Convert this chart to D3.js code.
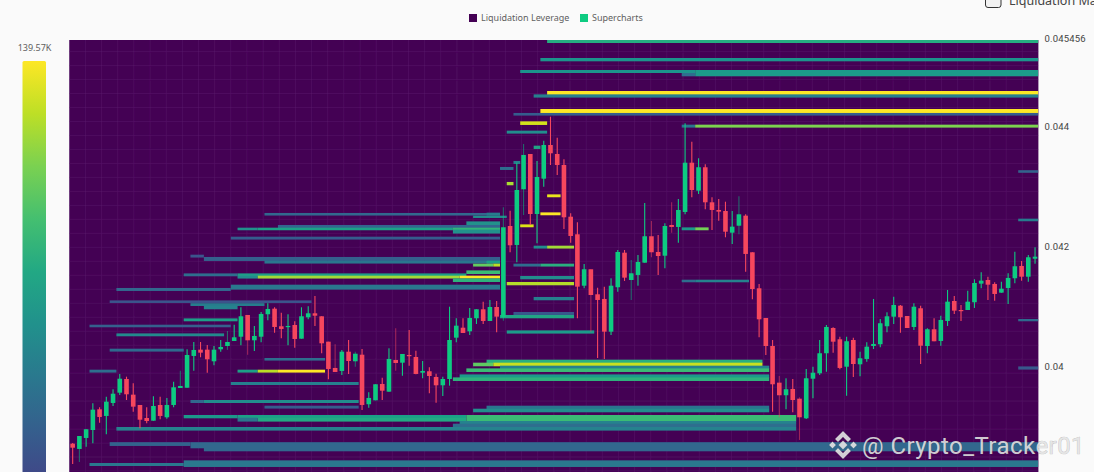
<!DOCTYPE html>
<html>
<head>
<meta charset="utf-8">
<script src="https://cdn.jsdelivr.net/npm/d3@7"></script>
<style>
    html, body { margin: 0; padding: 0; background: #fafafa; overflow: hidden; }
    svg { display: block; }
    .legend-text { font-family: 'Noto Sans', sans-serif; font-size: 9px; fill: #5f5f5f; }
    .axis text { font-family: Roboto, sans-serif; font-size: 9.5px; fill: #444; letter-spacing: 0.2px; }
    .mark { font-family: Roboto, sans-serif; font-size: 24px; fill: #e4e4e4; fill-opacity: 0.9; letter-spacing: 0.45px;
            paint-order: stroke; stroke: rgba(60, 60, 60, 0.35); stroke-width: 0.7px; }
</style>
</head>
<body>
<div id="chart"></div>
<script>
// Prices are kept in millionths (42000 = 0.042)
const candleOpen = [
    38705, 38617, 38800, 38933, 39278, 39167, 39383, 39555, 39783, 39522,
    39350, 39133, 39088, 39350, 39145, 39350, 39633, 39638, 40167, 40272,
    40272, 40078, 40278, 40333, 40417, 40488, 40850, 40428, 40488, 40862,
    40955, 40662, 40650, 40683, 40455, 40812, 40878, 40828, 40405, 39967,
    39917, 40238, 40078, 40188, 39362, 39428, 39700, 39572, 40100, 40055,
    40183, 40150, 39888, 39912, 39817, 39678, 39783, 40472, 40638, 40578,
    40795, 40945, 40750, 40983, 40812, 42333, 42017, 42945, 43533, 42533,
    43122, 43683, 43533, 43350, 42488, 42195, 41338, 41612, 41195, 41117,
    40572, 41312, 41888, 41433, 41517, 41722, 42162, 41900, 41838, 42350,
    42317, 42567, 43388, 42922, 43312, 42728, 42600, 42583, 42222, 42338,
    42505, 41895, 41295, 40800, 40333, 39722, 39512, 39617, 39455, 39128,
    39788, 39878, 40212, 40633, 40445, 39988, 40433, 40028, 40117, 40333,
    40362, 40662, 40822, 41005, 40833, 40650, 40962, 40333, 40612, 40417,
    40750, 41083, 40933, 40933, 41062, 41372, 41433, 41367, 41222, 41300,
    41462, 41667, 41488, 41788
];
const candleClose = [
    38638, 38833, 38945, 39272, 39150, 39405, 39538, 39788, 39528, 39322,
    39105, 39083, 39333, 39167, 39350, 39645, 39667, 40183, 40267, 40222,
    40112, 40272, 40317, 40400, 40478, 40828, 40428, 40500, 40867, 40950,
    40650, 40617, 40667, 40450, 40828, 40878, 40838, 40378, 39950, 39900,
    40238, 40083, 40205, 39350, 39467, 39695, 39588, 40117, 40050, 40200,
    40167, 39867, 39917, 39833, 39678, 39783, 40433, 40672, 40550, 40800,
    40945, 40750, 40983, 40822, 42312, 42012, 42933, 43517, 42533, 43150,
    43683, 43545, 43350, 42478, 42167, 41322, 41612, 41183, 41100, 40572,
    41338, 41900, 41472, 41545, 41733, 42162, 41895, 41833, 42333, 42317,
    42600, 43388, 42933, 43312, 42728, 42600, 42572, 42238, 42322, 42528,
    41867, 41283, 40778, 40333, 39695, 39512, 39612, 39433, 39145, 39795,
    39888, 40212, 40650, 40405, 39967, 40412, 40033, 40128, 40322, 40367,
    40712, 40828, 41017, 40812, 40633, 40988, 40338, 40612, 40412, 40767,
    41072, 40922, 40917, 41072, 41383, 41422, 41355, 41200, 41288, 41467,
    41662, 41488, 41812, 41822
];
const candleHigh = [
    38717, 38833, 38945, 39378, 39312, 39488, 39612, 39867, 39822, 39712,
    39350, 39312, 39495, 39488, 39467, 39738, 39922, 40278, 40400, 40400,
    40350, 40333, 40433, 40583, 40688, 40978, 40850, 40667, 40900, 41045,
    40978, 40888, 40862, 40745, 40978, 40995, 41167, 40828, 40405, 40362,
    40267, 40433, 40238, 40283, 39562, 39695, 39805, 40295, 40628, 40200,
    40600, 40255, 40083, 39978, 39872, 39822, 40988, 40795, 40795, 40967,
    40945, 41072, 41100, 41083, 42645, 42588, 43388, 43700, 43533, 43417,
    43755, 44155, 43805, 43445, 42545, 42395, 41700, 41612, 41305, 41322,
    41462, 41933, 41933, 41767, 41850, 42717, 42417, 42183, 42378, 42728,
    42783, 44045, 43738, 43462, 43362, 42812, 42783, 42738, 42583, 42828,
    42528, 41895, 41367, 40800, 40433, 39833, 39795, 39783, 39478, 39950,
    39988, 40433, 40683, 40645, 40488, 40488, 40472, 40238, 40395, 41117,
    40783, 40895, 41155, 41017, 40833, 41045, 41005, 40628, 40795, 40838,
    41267, 41167, 41017, 41255, 41445, 41562, 41488, 41395, 41405, 41545,
    41905, 41750, 41850, 41978
];
const candleLow = [
    38367, 38400, 38655, 38712, 39055, 38862, 39333, 39517, 39433, 39238,
    38962, 39045, 39088, 39112, 39122, 39312, 39633, 39638, 39922, 40145,
    39888, 40012, 40238, 40267, 40417, 40345, 40188, 40250, 40395, 40762,
    40555, 40462, 40345, 40305, 40455, 40778, 40667, 40212, 39778, 39900,
    39850, 39867, 39988, 39267, 39305, 39428, 39433, 39572, 39922, 39838,
    40005, 39862, 39795, 39545, 39388, 39500, 39672, 40395, 40550, 40517,
    40700, 40700, 40750, 40562, 40755, 41895, 41728, 42517, 42350, 42045,
    42988, 43350, 43183, 42283, 42055, 40795, 41295, 40572, 40133, 40117,
    40517, 41238, 41417, 41100, 41338, 41722, 41812, 41517, 41628, 42222,
    42055, 42528, 42812, 42867, 42612, 42267, 42422, 42145, 42033, 42195,
    41572, 41112, 40478, 40183, 39238, 39145, 39278, 39228, 38767, 39117,
    39462, 39850, 39905, 40222, 39945, 39505, 39817, 39828, 40072, 40283,
    40312, 40562, 40700, 40555, 40633, 40600, 40033, 40212, 40412, 40338,
    40667, 40867, 40750, 40933, 40967, 41295, 41100, 41088, 41222, 41033,
    41378, 41422, 41405, 41705
];
// candles whose wick reads faint in the picture
const faintWicks = [1, 16, 23, 26, 39, 42, 48, 64, 67, 77, 83, 86, 89, 99, 105, 108];

// Liquidation bands: [price top, price bottom, first candle, end candle, value in K]
const liqBands = [
    [45440, 45388, 71, 144, 87], [45128, 45083, 70, 144, 72], [44928, 44888, 67, 93, 72],
    [44928, 44833, 93, 144, 76], [44878, 44833, 91, 93, 50], [44578, 44522, 71, 144, 139.57],
    [44522, 44478, 69, 144, 60], [44278, 44212, 70, 144, 139.57], [44212, 44178, 66, 144, 40],
    [44072, 44022, 67, 71, 130], [43917, 43878, 65, 71, 68], [44017, 43978, 91, 93, 55],
    [44017, 43978, 93, 144, 112], [43667, 43622, 69, 70, 82], [43412, 43372, 66, 67, 60],
    [43312, 43272, 64, 66, 50], [43258, 43225, 141, 144, 44], [43062, 43017, 65, 66, 122],
    [42855, 42817, 71, 73, 135], [42555, 42517, 70, 73, 139.57], [42450, 42417, 141, 144, 58],
    [42355, 42317, 67, 69, 132], [42000, 41962, 69, 71, 68], [42000, 41962, 71, 75, 120],
    [42305, 42267, 91, 93, 75], [42305, 42267, 93, 95, 110], [41700, 41662, 66, 70, 50],
    [41700, 41662, 70, 75, 88], [41495, 41450, 67, 75, 68], [41395, 41350, 65, 75, 124],
    [41145, 41100, 69, 75, 60], [40895, 40850, 66, 75, 38], [40845, 40800, 64, 75, 82],
    [40588, 40545, 65, 78, 76], [41433, 41400, 91, 93, 50], [41433, 41400, 93, 101, 62],
    [42545, 42512, 29, 64, 46], [42550, 42512, 62, 64, 58], [42500, 42472, 60, 65, 68],
    [42405, 42345, 59, 64, 70], [42345, 42305, 31, 64, 45], [42300, 42267, 25, 28, 70],
    [42300, 42267, 28, 57, 80], [42300, 42267, 57, 64, 92], [42267, 42212, 57, 64, 70],
    [42150, 42112, 24, 64, 40], [41850, 41812, 18, 20, 36], [41812, 41755, 20, 64, 42],
    [41750, 41712, 29, 64, 55], [41750, 41712, 62, 64, 78], [41700, 41662, 60, 63, 106],
    [41700, 41662, 63, 64, 125], [41588, 41538, 59, 64, 95], [41538, 41500, 17, 25, 50],
    [41538, 41500, 25, 59, 78], [41500, 41462, 25, 28, 68], [41500, 41462, 28, 58, 120],
    [41500, 41462, 58, 64, 139.57], [41455, 41405, 57, 64, 90], [41350, 41278, 24, 64, 56],
    [41295, 41255, 7, 24, 46], [41088, 41055, 6, 36, 36], [41042, 41005, 18, 29, 58],
    [41005, 40950, 20, 25, 62], [40788, 40750, 17, 25, 78], [40778, 40750, 141, 144, 48],
    [40683, 40650, 3, 24, 42], [40538, 40500, 7, 23, 66], [40283, 40245, 6, 17, 48],
    [40128, 40095, 29, 38, 50], [40100, 40050, 62, 103, 88], [40050, 40000, 60, 63, 105],
    [40050, 40000, 63, 103, 128], [40000, 39955, 64, 104, 60], [39955, 39905, 59, 104, 95],
    [39988, 39945, 141, 144, 38], [39855, 39805, 58, 104, 76], [39805, 39755, 57, 104, 90],
    [39933, 39895, 3, 7, 50], [39933, 39895, 25, 28, 80], [39933, 39895, 28, 31, 125],
    [39933, 39895, 31, 38, 139.57], [39728, 39688, 24, 43, 60], [39428, 39388, 18, 20, 46],
    [39428, 39388, 20, 43, 68], [39333, 39295, 29, 43, 40], [39333, 39283, 62, 104, 54],
    [39283, 39233, 60, 104, 68], [39178, 39133, 17, 25, 75], [39178, 39133, 25, 59, 80],
    [39178, 39078, 59, 108, 95], [39133, 39078, 28, 59, 85], [39133, 39078, 25, 28, 55],
    [39078, 39033, 58, 108, 62], [39033, 38978, 57, 108, 50], [38978, 38928, 7, 108, 62],
    [38725, 38672, 6, 18, 44], [38725, 38633, 18, 144, 46], [38633, 38583, 20, 144, 46],
    [38378, 38338, 3, 17, 56], [38422, 38322, 17, 144, 56]
];

const tickPrices = [45456, 44000, 42000, 40000];
const tickLabels = ['0.045456', '0.044', '0.042', '0.04'];
const legendNames = ['Liquidation Leverage', 'Supercharts'];
const maxLiq = 139.57;

const upColor = '#0ecb81';
const downColor = '#f6465d';

let width = 1094, height = 472;
let plot = {left: 69.3, right: 1038.4, top: 40, bottom: 472};

let svg = d3.select('#chart')
    .append('svg')
        .attr('width', width)
        .attr('height', height);

let defs = svg.append('defs');
defs.append('clipPath').attr('id', 'plot-clip')
    .append('rect')
        .attr('x', plot.left)
        .attr('y', plot.top)
        .attr('width', plot.right - plot.left)
        .attr('height', plot.bottom - plot.top);
defs.append('filter').attr('id', 'soft')
    .append('feGaussianBlur')
        .attr('stdDeviation', 0.4);
defs.append('filter').attr('id', 'softer')
    .append('feGaussianBlur')
        .attr('stdDeviation', 0.6);

// Scales
let scX = d3.scaleLinear().domain([0, candleOpen.length]).range([plot.left, plot.right]);
let scY = d3.scaleLinear().domain([38233, 45433]).range([plot.bottom, plot.top]);
let scColor = v => d3.interpolateViridis(v / maxLiq);

// Heatmap background
svg.append('rect')
    .attr('x', plot.left)
    .attr('y', plot.top)
    .attr('width', plot.right - plot.left)
    .attr('height', plot.bottom - plot.top)
    .attr('fill', scColor(0));

let heat = svg.append('g')
    .attr('clip-path', 'url(#plot-clip)')
    .append('g')
    .attr('filter', 'url(#softer)');

// Faint grid
heat.selectAll('line.grid-x')
    .data(d3.range(0, 144, 2.4))
    .enter()
    .append('line')
        .attr('class', 'grid-x')
        .attr('x1', d => scX(d))
        .attr('x2', d => scX(d))
        .attr('y1', plot.top)
        .attr('y2', plot.bottom)
        .attr('stroke', '#5a1a6c')
        .attr('stroke-opacity', 0.45);
heat.selectAll('line.grid-y')
    .data(d3.range(38250, 45450, 233))
    .enter()
    .append('line')
        .attr('class', 'grid-y')
        .attr('x1', plot.left)
        .attr('x2', plot.right)
        .attr('y1', d => scY(d))
        .attr('y2', d => scY(d))
        .attr('stroke', '#5a1a6c')
        .attr('stroke-opacity', 0.45);

// Liquidation bands
heat.selectAll('rect.band')
    .data(liqBands)
    .enter()
    .append('rect')
        .attr('class', 'band')
        .attr('x', d => scX(d[2]))
        .attr('y', d => scY(d[0]) - 0.3)
        .attr('width', d => scX(d[3]) - scX(d[2]))
        .attr('height', d => scY(d[1]) - scY(d[0]) + 0.6)
        .attr('fill', d => scColor(d[4]));

// Candles
let candles = svg.append('g')
    .attr('clip-path', 'url(#plot-clip)')
    .append('g')
    .attr('filter', 'url(#soft)')
    .selectAll('g')
    .data(candleOpen.map((o, i) => i))
    .enter()
    .append('g');
candles.append('line')
    .attr('x1', i => scX(i + 0.5))
    .attr('x2', i => scX(i + 0.5))
    .attr('y1', i => scY(candleHigh[i]))
    .attr('y2', i => scY(candleLow[i]))
    .attr('stroke-width', 1.1)
    .attr('stroke-opacity', i => faintWicks.includes(i) ? 0.5 : 1)
    .attr('stroke', i => candleClose[i] >= candleOpen[i] ? upColor : downColor);
candles.append('rect')
    .attr('x', i => scX(i + 0.5) - 2.3)
    .attr('width', 4.6)
    .attr('y', i => scY(Math.max(candleOpen[i], candleClose[i])))
    .attr('height', i => Math.max(1.2, Math.abs(scY(candleOpen[i]) - scY(candleClose[i]))))
    .attr('fill', i => candleClose[i] >= candleOpen[i] ? upColor : downColor);

// Price axis
let yAxis = d3.axisRight(scY)
    .tickValues(tickPrices)
    .tickSize(0)
    .tickPadding(6)
    .tickFormat((d, i) => tickLabels[i]);
svg.append('g')
    .attr('class', 'axis')
    .attr('transform', `translate(${plot.right},0)`)
    .call(yAxis)
    .call(g => g.select('.domain').remove());

// Colour bar, it runs off the bottom of the picture
let scBar = d3.scaleLinear().domain([0, maxLiq]).range([588, 61]);
let barGrad = defs.append('linearGradient')
    .attr('id', 'bar-grad')
    .attr('x1', 0).attr('x2', 0)
    .attr('y1', 1).attr('y2', 0);
barGrad.selectAll('stop')
    .data(d3.range(0, 1.01, 0.1))
    .enter()
    .append('stop')
        .attr('offset', d => d)
        .attr('stop-color', d => d3.interpolateViridis(d));
svg.append('rect')
    .attr('x', 22.5)
    .attr('y', scBar(maxLiq))
    .attr('width', 23.5)
    .attr('height', scBar(0) - scBar(maxLiq))
    .attr('rx', 1.5)
    .attr('fill', 'url(#bar-grad)');
svg.append('text')
    .attr('class', 'legend-text')
    .attr('x', 34.5)
    .attr('y', 51)
    .attr('text-anchor', 'middle')
    .text('139.57K');

// Legend on top
let legendX = [469, 580];
let legendColors = [scColor(0), upColor];
legendNames.forEach((name, i) => {
    svg.append('rect')
        .attr('x', legendX[i])
        .attr('y', 14)
        .attr('width', 8)
        .attr('height', 8)
        .attr('fill', legendColors[i]);
    svg.append('text')
        .attr('class', 'legend-text')
        .attr('x', legendX[i] + 12)
        .attr('y', 21)
        .text(name);
});

// Toggle cut off at the top right corner
svg.append('rect')
    .attr('x', 985.5)
    .attr('y', -8)
    .attr('width', 15.5)
    .attr('height', 15.5)
    .attr('rx', 2.5)
    .attr('fill', '#f2f2f2')
    .attr('stroke', '#333');
svg.append('text')
    .attr('x', 1009)
    .attr('y', 5)
    .attr('font-family', "'Noto Sans', sans-serif")
    .attr('font-size', 12.5)
    .attr('fill', '#444')
    .text('Liquidation Map');

// Watermark
let logo = svg.append('g')
    .attr('transform', 'translate(843,445)')
    .attr('fill', '#e4e4e4')
    .attr('fill-opacity', 0.9)
    .attr('stroke', 'rgba(60,60,60,0.3)')
    .attr('stroke-width', 0.5);
logo.append('path').attr('d', 'M0,-4.5L4.5,0L0,4.5L-4.5,0Z');
logo.append('path').attr('d', 'M0,-14L8,-6L5,-3L0,-8L-5,-3L-8,-6Z');
logo.append('path').attr('d', 'M0,14L8,6L5,3L0,8L-5,3L-8,6Z');
logo.append('path').attr('d', 'M-14,0L-10.5,-3.5L-7,0L-10.5,3.5Z');
logo.append('path').attr('d', 'M14,0L10.5,-3.5L7,0L10.5,3.5Z');
svg.append('text')
    .attr('class', 'mark')
    .attr('x', 862)
    .attr('y', 454)
    .text('@ Crypto_Tracker01');
</script>
</body>
</html>
